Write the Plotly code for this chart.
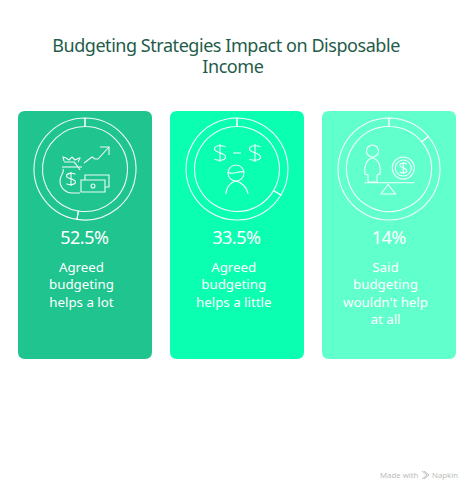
import plotly.graph_objects as go

W, H = 474, 495

title_lines = ["Budgeting Strategies Impact on Disposable", "Income"]
percents = [52.5, 33.5, 14]
descriptions = [
    ["Agreed", "budgeting", "helps a lot"],
    ["Agreed", "budgeting", "helps a little"],
    ["Said", "budgeting", "wouldn't help", "at all"],
]
card_colors = ["#1FC48F", "#0BFFB0", "#60FFCB"]
card_lefts = [18, 170, 322]
card_w = 134
card_top, card_bottom = 111, 359
ring_r = 51
ring_y = 169
WHITE = "rgba(255,255,255,0.92)"

fig = go.Figure()
# empty trace so the pixel axes exist for the shapes
fig.add_trace(go.Scatter(x=[], y=[], showlegend=False))

shapes = []
notes = []


def line_path(d, width=1.1):
    shapes.append(dict(type="path", path=d, line=dict(color=WHITE, width=width), layer="above"))


def circle(cx, cy, r, width=1.1):
    shapes.append(dict(type="circle", x0=cx - r, x1=cx + r, y0=cy - r, y1=cy + r,
                       line=dict(color=WHITE, width=width), layer="above"))


def note(x, y, text, size, color="white", anchor="center"):
    notes.append(dict(x=x, y=y, text=text, showarrow=False, xanchor=anchor, yanchor="middle",
                      font=dict(family="Noto Sans", size=size, color=color)))


def round_rect(x0, y0, x1, y1, r):
    return (f"M{x0+r},{y0} L{x1-r},{y0} Q{x1},{y0} {x1},{y0+r} L{x1},{y1-r} Q{x1},{y1} {x1-r},{y1} "
            f"L{x0+r},{y1} Q{x0},{y1} {x0},{y1-r} L{x0},{y0+r} Q{x0},{y0} {x0+r},{y0} Z")


def dollar(cx, cy, w, h):
    # thin outline dollar sign, the icons are line drawings
    a, b = w / 2, h / 2
    top, bot = cy - b * 0.8, cy + b * 0.8
    line_path(f"M{cx+a},{top+h*0.06} C{cx+a*0.4},{top-h*0.04} {cx-a},{top-h*0.04} {cx-a},{top+h*0.18} "
              f"C{cx-a},{cy} {cx+a},{cy-h*0.02} {cx+a},{bot-h*0.18} "
              f"C{cx+a},{bot+h*0.04} {cx-a*0.4},{bot+h*0.04} {cx-a},{bot-h*0.06}")
    line_path(f"M{cx},{cy-b} L{cx},{cy+b}")


for i, pct in enumerate(percents):
    left = card_lefts[i]
    cx = left + card_w / 2
    shapes.append(dict(type="path", path=round_rect(left, card_top, left + card_w, card_bottom, 7),
                       fillcolor=card_colors[i], line=dict(width=0), layer="below"))
    fig.add_trace(go.Pie(
        values=[pct, 100 - pct],
        sort=False, direction="clockwise", rotation=0, hole=0.833,
        textinfo="none", hoverinfo="skip", showlegend=False,
        marker=dict(colors=["rgba(0,0,0,0)", "rgba(0,0,0,0)"], line=dict(color=WHITE, width=1.1)),
        domain=dict(x=[(cx - ring_r) / W, (cx + ring_r) / W],
                    y=[1 - (ring_y + ring_r) / H, 1 - (ring_y - ring_r) / H]),
    ))
    note(cx - 0.5, 236.5, f"{pct:g}%", 18)
    rows = descriptions[i]
    notes.append(dict(x=cx - 3.5, y=256, text="<br>".join(rows), showarrow=False, xanchor="center",
                      yanchor="top", align="center",
                      font=dict(family="Noto Sans", size=13.3, color="white")))

# icon 1: money bag, arrow, banknotes
line_path("M63,169 C65,172 60,175 60,181 C60,188 66,193 72,193 L80,193")
line_path("M80,170 C78,167 77,165 74,162 L64,162")
line_path("M62,167 L82,167")
line_path("M64,161 L63,157 L66,158 L69,160 L72,157 L75,160 L79,158 L80,158 L78,162")
line_path("M84,163 L92,157 L95,159 L98,159 L109,147")
line_path("M100,147 L109,147 L109,155")
line_path("M81,180 L105,180 L105,192 L81,192 Z")
line_path("M85,180 L85,175 L109,175 L109,187 L105,187")
circle(93, 186, 2)
dollar(71, 179, 9, 14)

# icon 2: two dollars and a person
dollar(220, 153, 11, 18)
dollar(255, 153, 11, 18)
line_path("M233,153 L241,153")
circle(236, 173, 8)
line_path("M228,172 C232,176 240,170 244,172")
line_path("M226,194 C226,187 231,182 236,181 C241,182 247,187 248,194")

# icon 3: person and coin on a balance
circle(372.5, 151, 6)
line_path("M365,174 C364,165 367,159 372.5,158 C378,159 381,165 380,174 L377,175 L377,182 L368,182 L368,175 Z")
line_path("M364.5,182.7 L414.5,182.7")
line_path("M388,184.5 L381,194 L395.5,194 Z")
circle(403.3, 168, 11)
circle(403.3, 168, 8)
dollar(403.3, 168, 7, 12)

# title and watermark
note(225.5, 45, title_lines[0], 18, "#1F5C4A")
note(233, 66, title_lines[1], 18, "#1F5C4A")
note(378, 475, "Made with", 7.8, "#BDBDBD", "left")
note(430, 475, "Napkin", 7.8, "#BDBDBD", "left")
shapes.append(dict(type="path", path="M422,471 L427,475 L422,479 M424,471 L429,475 L424,479",
                   line=dict(color="#BDBDBD", width=1), layer="above"))

fig.update_layout(
    width=W, height=H, margin=dict(l=0, r=0, t=0, b=0),
    paper_bgcolor="white", plot_bgcolor="rgba(0,0,0,0)",
    xaxis=dict(range=[0, W], visible=False, fixedrange=True),
    yaxis=dict(range=[H, 0], visible=False, fixedrange=True),
    shapes=shapes, annotations=notes,
)

# reference type is set tighter than plotly's default for the large text
tight = ("var s=document.createElement('style');"
         "s.textContent='text[style*=\"font-size: 18px\"]{letter-spacing:-0.45px}';"
         "document.head.appendChild(s);"
         "document.body.style.margin='0';document.body.style.overflow='hidden';")
fig.write_html("out.html", config=dict(displayModeBar=False), post_script=tight)
